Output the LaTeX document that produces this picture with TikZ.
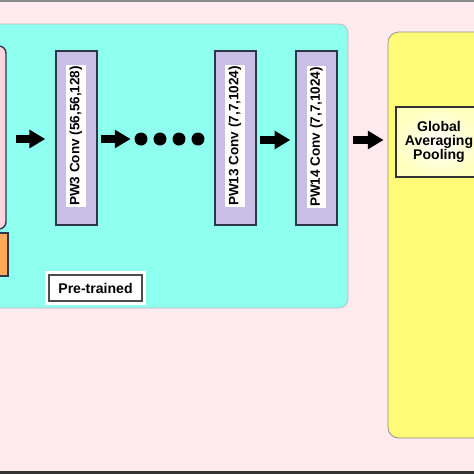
\documentclass[tikz,border=0pt]{standalone}
\usepackage{fontspec}
\setmainfont{Liberation Sans}
\usepackage{tikz}
\usetikzlibrary{arrows.meta,positioning,calc}
\definecolor{bgpink}{RGB}{255,234,240}
\definecolor{panelcyan}{RGB}{143,255,240}
\definecolor{convlav}{RGB}{200,190,230}
\definecolor{poolyellow}{RGB}{255,250,120}
\definecolor{edgedark}{RGB}{45,55,70}
\definecolor{inpink}{RGB}{255,212,220}
\definecolor{inorange}{RGB}{255,170,90}
\tikzset{
  >=Stealth,
  panel/.style={rectangle, rounded corners=5pt, inner sep=0pt},
  conv/.style={rectangle, draw=edgedark, line width=0.8pt, fill=convlav, inner sep=0pt,
    minimum width=0.82cm, minimum height=3.48cm},
  convlbl/.style={rectangle, fill=white, inner sep=0pt, rotate=90,
    minimum width=2.84cm, minimum height=0.4cm, font=\fontsize{7.7}{8}\selectfont\bfseries},
  blockarrow/.style={line width=5.1pt, -{Triangle[length=9pt,width=10pt]}},
  dot/.style={circle, fill=black, inner sep=0pt, minimum size=0.26cm}
}
\begin{document}
\begin{tikzpicture}[x=0.02cm, y=-0.02cm,
    % tags and the pooling text
    tag/.style={rectangle, draw=black!70, line width=1pt, fill=white, inner sep=0pt,
      preaction={draw=white, line width=4.5pt}, font=\fontsize{8}{8}\selectfont\bfseries},
    poolbox/.style={rectangle, draw=black!80, line width=0.6pt, inner sep=0pt, align=center,
      inner color=white, outer color=yellow!25,
      font=\fontsize{8}{7.8}\selectfont\bfseries}
]
\useasboundingbox (0,0) rectangle (474,474);
\clip (0,0) rectangle (474,474);
\fill[bgpink] (0,0) rectangle (474,474);
\fill[black!45] (0,0) rectangle (474,2);
\fill[black!80] (0,471) rectangle (474,474);

% --- Pre-trained part ---
\node[panel, fill=panelcyan, draw=gray!55, minimum width=7.36cm, minimum height=5.68cm] (trunk) at (164,166) {};
\node[panel, rounded corners=4pt, draw=edgedark, line width=0.8pt, fill=inpink, minimum width=1.32cm, minimum height=3.66cm] (inBlock) at (-27,137.5) {};
\node[rectangle, draw=edgedark, line width=0.8pt, fill=inorange, minimum width=1.36cm, minimum height=0.86cm] (inTag) at (-26,254.5) {};

\node[conv] (pw3) at (76.5,138) {};
\node[convlbl] at (76,136) {PW3 Conv (56,56,128)};

\node[dot] (d1) at (141,139) {};
\foreach \i/\x in {2/160, 3/179, 4/198} {
    \node[dot] (d\i) at (\x,139) {};
}

\node[conv] (pw13) at (235.5,138) {};
\node[convlbl] at (235,136) {PW13 Conv (7,7,1024)};

\node[conv] (pw14) at (316.5,138) {};
\node[convlbl] at (316.5,137) {PW14 Conv (7,7,1024)};

\node[tag, minimum width=1.86cm, minimum height=0.52cm] (pretrained) at (95.5,288) {Pre-trained};

% --- Pooling part ---
\node[panel, rounded corners=6pt, fill=poolyellow, draw=black!45, minimum width=2.2cm, minimum height=8.12cm] (pool) at (443,235) {};
\node[poolbox, minimum width=1.72cm, minimum height=1.4cm] (gap) at (439,142) {Global\\Averaging\\Pooling};

% Arrows
\draw[blockarrow, shorten <=5.1pt, shorten >=5.7pt] (inBlock.east |- 0,139) -- (pw3.west |- 0,139);
\draw[blockarrow, shorten <=1.7pt, shorten >=2pt] (pw3.east |- d1) -- (d1.west);
\draw[blockarrow, shorten <=1.7pt, shorten >=2.8pt] (pw13.east |- 0,140) -- (pw14.west |- 0,140);
\draw[blockarrow, shorten <=2.8pt, shorten >=2.3pt] (trunk.east |- 0,140) -- (pool.west |- 0,140);

\end{tikzpicture}
\end{document}
